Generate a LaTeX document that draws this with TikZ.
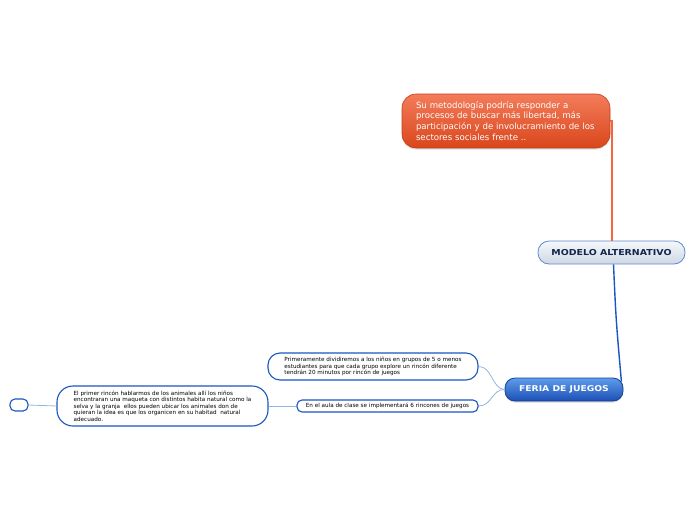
\documentclass[tikz,border=0pt]{standalone}
\usepackage{fontspec}
\setmainfont{DejaVu Sans}
\newfontfamily\widebold[FakeStretch=1.15]{DejaVu Sans Bold}
\usetikzlibrary{shadows}

\definecolor{orangetop}{HTML}{F47C5A}
\definecolor{orangebot}{HTML}{D9461C}
\definecolor{orangeline}{HTML}{F5643C}
\definecolor{bluedark}{HTML}{1B55C0}
\definecolor{bluetop}{HTML}{5E9CEB}
\definecolor{bluebot}{HTML}{1C4FB4}
\definecolor{grytop}{HTML}{F6F8FA}
\definecolor{grybot}{HTML}{CDD8E3}
\definecolor{navy}{HTML}{14264F}
\definecolor{twig}{HTML}{8DB6E2}

\tikzset{
  idea/.style={draw=orangebot!90!black, line width=0.6pt, rounded corners=14pt,
    top color=orangetop, bottom color=orangebot, text=white, align=left,
    minimum width=208pt, minimum height=54pt, text width=180pt, inner xsep=14pt,
    font=\fontsize{8.6}{10.8}\selectfont, drop shadow={opacity=0.25, shadow xshift=0pt, shadow yshift=-1.5pt}},
  central/.style={draw=bluedark!70, line width=0.8pt, rounded corners=11pt,
    top color=grytop, bottom color=grybot, text=navy,
    minimum width=147pt, minimum height=23pt, font=\fontsize{8.2}{9}\widebold},
  topic/.style={draw=bluebot!80!black, line width=0.8pt, rounded corners=10pt,
    top color=bluetop, bottom color=bluebot, text=white,
    minimum width=118pt, minimum height=23pt, font=\fontsize{8}{9}\widebold,
    drop shadow={opacity=0.3, shadow xshift=0pt, shadow yshift=-1.5pt}},
  leaf/.style={draw=bluedark, line width=1.1pt, fill=white, rounded corners=11pt,
    align=left, font=\fontsize{5.65}{6.6}\selectfont},
  twigline/.style={draw=twig, line width=0.8pt}
}

\begin{document}
\begin{tikzpicture}[x=1pt, y=-1pt]
  \useasboundingbox (0,0) rectangle (696,520);

  % root and main branches
  \node[idea] (metodo) at (506,121) {Su metodología podría responder a\\
    procesos de buscar más libertad, más\\ participación y de involucramiento
    de los\\ sectores sociales frente ..};
  \node[central] (modelo) at (611.5,252.5) {MODELO ALTERNATIVO};
  \node[topic] (feria) at (564,389.5) {FERIA DE JUEGOS};

  % leaves
  \node[leaf, minimum width=210pt, minimum height=27pt,
    rounded corners=12pt] (grupos) at (373,366.5)
    {Primeramente dividiremos a los niños en grupos de 5 o menos\\
     estudiantes para que cada grupo explore un rincón diferente\\
     tendrán 20 minutos por rincón de juegos};
  \node[leaf, minimum width=181pt, minimum height=12pt, inner ysep=0pt,
    rounded corners=5pt] (aula) at (387.5,406)
    {En el aula de clase se implementará 6 rincones de juegos};
  \node[leaf, minimum width=211pt, minimum height=40pt,
    rounded corners=16pt] (rincon) at (162.5,406)
    {El primer rincón hablarmos de los animales allí los niños\\
     encontraran una maqueta con distintos habita natural como la\\
     selva y la granja~ ellos pueden ubicar los animales don de\\
     quieran la idea es que los organicen en su habitad~ natural\\
     adecuado.};
  \node[leaf, minimum width=18pt, minimum height=12pt, inner sep=0pt,
    rounded corners=5pt] (vacio) at (19,405) {};

  % connectors
  \draw[orangeline, line width=2pt] (metodo.east) -| (modelo.north);
  \draw[bluedark, line width=1.4pt] ([xshift=2pt]modelo.south)
    .. controls (616,320) .. ([xshift=-2pt,yshift=-4pt]feria.north east);
  \draw[twigline] (feria.west) .. controls (492,389) and (492,366) .. (grupos.east);
  \draw[twigline] (feria.west) .. controls (492,389) and (492,406) .. (aula.east);
  \draw[twigline] (aula.west) -- (rincon.east);
  \draw[twigline] (rincon.west) -- (vacio.east);
\end{tikzpicture}
\end{document}
